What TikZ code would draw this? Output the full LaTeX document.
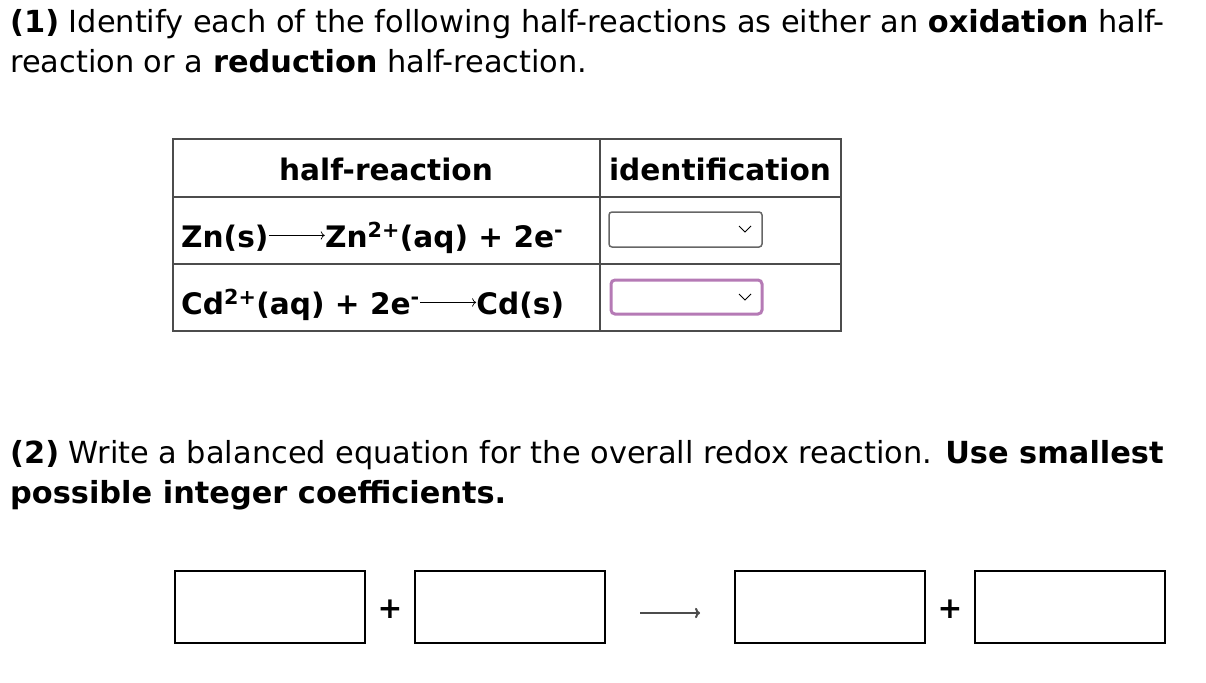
\documentclass[tikz,border=0pt]{standalone}
\usepackage{fontspec}
\usetikzlibrary{arrows.meta}
\setmainfont{DejaVu Sans}
\definecolor{selpurple}{HTML}{B57AB5}
\begin{document}
\begin{tikzpicture}[x=1pt,y=-1pt,
  txt/.style={anchor=base west,inner sep=0pt,font=\fontsize{30.4}{36}\selectfont},
  cell/.style={anchor=base,inner sep=0pt,font=\fontsize{29.6}{34}\selectfont\bfseries},
  ansbox/.style={draw=black,line width=2pt},
  grid/.style={draw=black!70,line width=1.2pt}]
\useasboundingbox (0,0) rectangle (1206,682);
\node[txt] (l1) at (10,33) {\textbf{(1)} Identify each of the following half-reactions as either an \textbf{oxidation} half-};
\node[txt] (l2) at (10,73) {reaction or a \textbf{reduction} half-reaction.};
\draw[grid] (173,139) rectangle (841,331);
\draw[grid] (600,139) -- (600,331);
\draw[grid] (173,197) -- (841,197);
\draw[grid] (173,264) -- (841,264);
\node[cell] (h1) at (386,180) {half-reaction};
\node[cell] (h2) at (720,180) {identification};
\node[cell,anchor=base west] (r1) at (181,247) {Zn(s)\raisebox{0.25em}{\tikz\draw[line width=0.7pt,-{To[length=4pt]}] (0,0)--(56pt,0);}Zn\textsuperscript{2+}(aq) + 2e\textsuperscript{-}};
\node[cell,anchor=base west] (r2) at (181,314) {Cd\textsuperscript{2+}(aq) + 2e\textsuperscript{-}\raisebox{0.25em}{\tikz\draw[line width=0.7pt,-{To[length=4pt]}] (0,0)--(56pt,0);}Cd(s)};
\draw[draw=black!60,line width=1.5pt,rounded corners=3pt] (609,212) rectangle (762,247);
\draw[line width=1pt] (739,226) -- (745,232) -- (751,226);
\draw[draw=selpurple,line width=3pt,rounded corners=4pt] (611,280) rectangle (762,314);
\draw[line width=1pt] (739,294) -- (745,300) -- (751,294);
\node[txt] (l3) at (10,463) {\textbf{(2)} Write a balanced equation for the overall redox reaction. \textbf{Use smallest}};
\node[txt] (l4) at (10,503) {\textbf{possible integer coefficients.}};
\draw[ansbox] (175,571) rectangle (365,643);
\draw[ansbox] (415,571) rectangle (605,643);
\draw[ansbox] (735,571) rectangle (925,643);
\draw[ansbox] (975,571) rectangle (1165,643);
\node[cell] (p1) at (390,618) {+};
\node[cell] (p2) at (950,618) {+};
\coordinate (a1) at (640,613); \coordinate (a2) at (700,613);
\draw[line width=2pt,black!70,-{To[length=5pt]}] (a1) -- (a2);
\end{tikzpicture}
\end{document}
